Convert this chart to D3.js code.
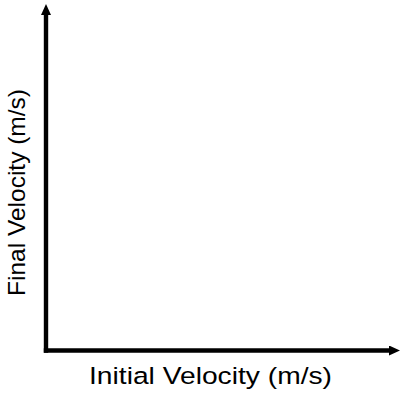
<!DOCTYPE html>
<html>
<head>
<meta charset="utf-8">
<script src="https://cdn.jsdelivr.net/npm/d3@7"></script>
<style>
    body { margin: 0; background: #fff; }
    svg { display: block; }
    .axis path { stroke: #000; stroke-width: 4.4; }
    .title { font-family: Arial, "Liberation Sans", sans-serif; font-size: 24.5px; fill: #000; }
</style>
</head>
<body>
<div id="chart"></div>
<script>
// data: a blank sketch graph, no ticks and no values
var xDomain = [0, 1];
var yDomain = [0, 1];
var xTicks = [];
var yTicks = [];
var xTitle = ["Initial Velocity (m/s)"];
var yTitle = ["Final Velocity (m/s)"];

var width = 407,
    height = 403;

// origin of the axes and where the arrow heads start
var margin = {
        top: 15,
        right: 18,
        bottom: 53,
        left: 45.5
    };

var svg = d3.select("#chart")
    .append("svg")
    .attr("width", width)
    .attr("height", height);

// arrow head
svg.append("defs")
    .append("marker")
    .attr("id", "arrow")
    .attr("markerUnits", "userSpaceOnUse")
    .attr("markerWidth", 12)
    .attr("markerHeight", 11)
    .attr("refX", 0)
    .attr("refY", 5)
    .attr("orient", "auto")
    .append("path")
    .attr("d", "M0,0L11,5L0,10Z")
    .attr("fill", "#000");

var xScale = d3.scaleLinear()
    .domain(xDomain)
    .range([margin.left, width - margin.right - 0.5]);

var yScale = d3.scaleLinear()
    .domain(yDomain)
    .range([height - margin.bottom, margin.top - 0.5]);

// X axis
var gx = svg.append("g")
    .attr("class", "x axis")
    .attr("transform", "translate(0," + yScale(yDomain[0]) + ")")
    .call(d3.axisBottom(xScale).tickValues(xTicks).tickSizeOuter(0));

// Y axis
var gy = svg.append("g")
    .attr("class", "y axis")
    .attr("transform", "translate(" + xScale(xDomain[0]) + ",0)")
    .call(d3.axisLeft(yScale).tickValues(yTicks).tickSizeOuter(0));

svg.selectAll(".axis .domain")
    .attr("stroke-linecap", "square")
    .attr("marker-end", "url(#arrow)");

// title x axis
svg.append("text")
    .attr("class", "title")
    .attr("x", 210.5)
    .attr("y", 383.5)
    .attr("text-anchor", "middle")
    .attr("textLength", 243)
    .attr("lengthAdjust", "spacingAndGlyphs")
    .text(xTitle[0]);

// title y axis
svg.append("text")
    .attr("class", "title")
    .attr("transform", "translate(24.5,192.5) rotate(-90)")
    .attr("text-anchor", "middle")
    .text(yTitle[0]);
</script>
</body>
</html>
